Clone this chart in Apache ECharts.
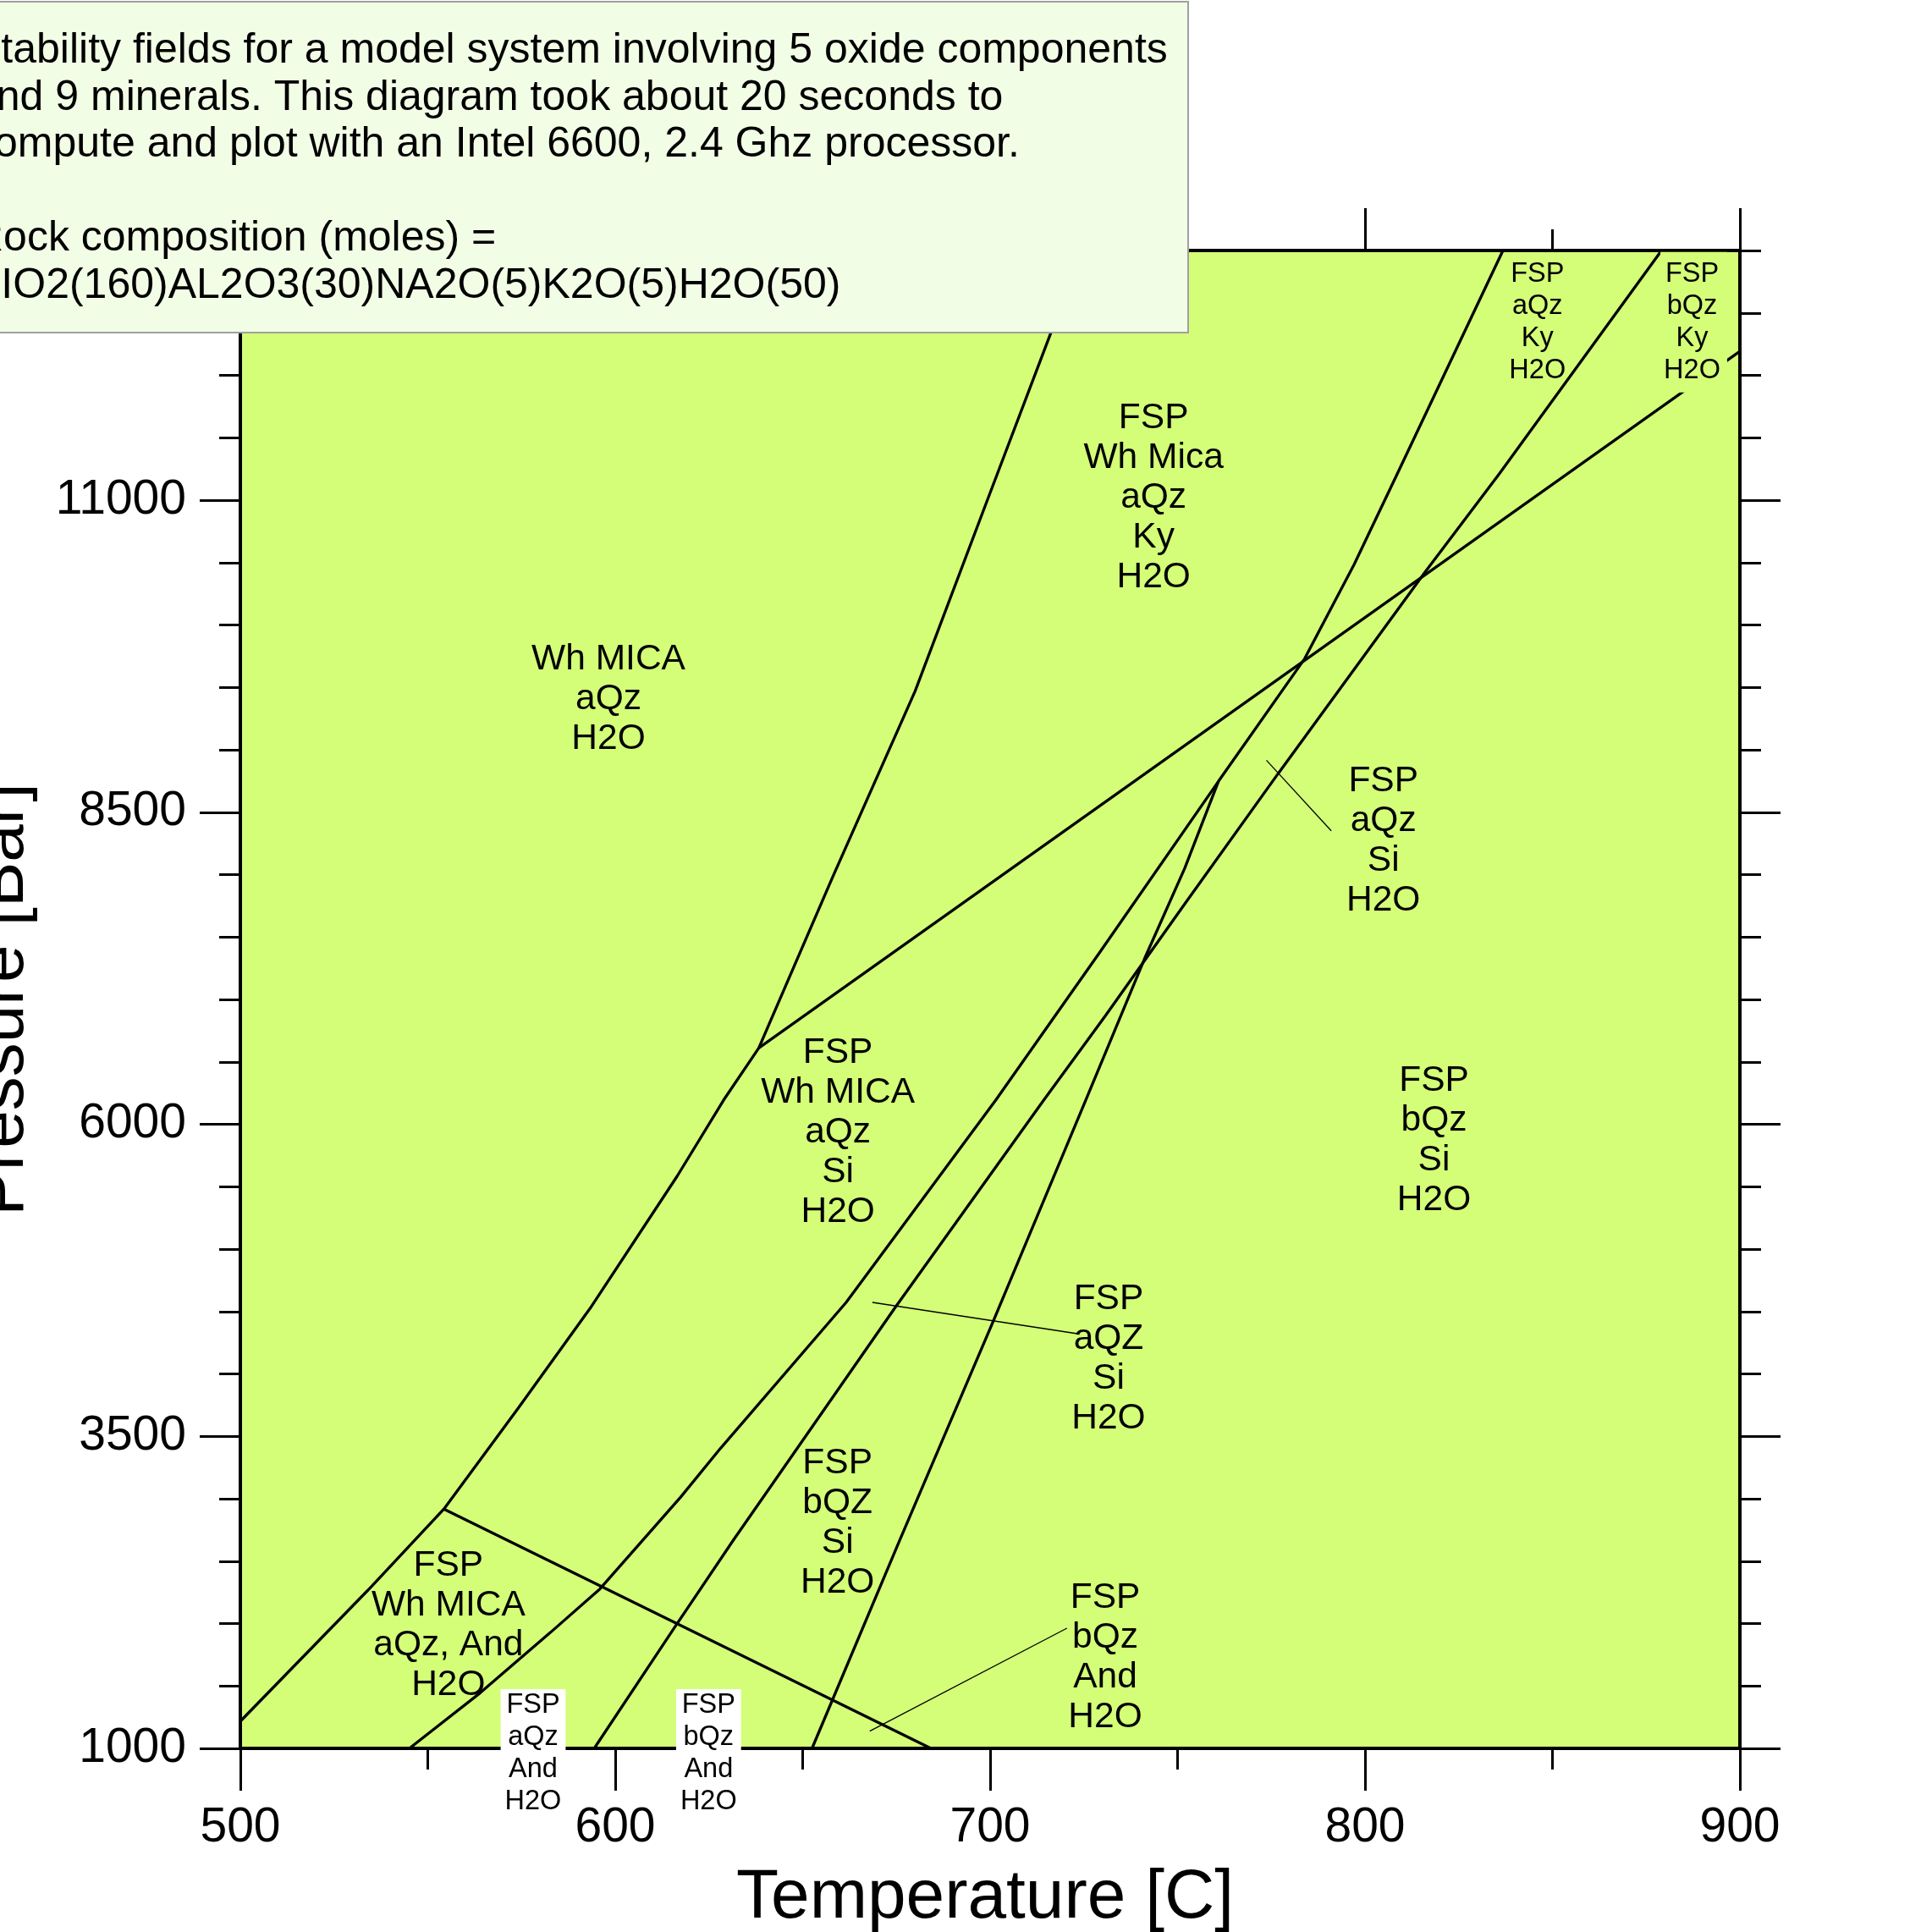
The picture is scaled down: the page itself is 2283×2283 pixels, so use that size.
<!DOCTYPE html>
<html><head><meta charset="utf-8">
<script src="https://cdn.jsdelivr.net/npm/echarts@6/dist/echarts.min.js"></script>
<style>html,body{margin:0;padding:0;background:#fff}#c{width:2283px;height:2283px}</style>
</head><body><div id="c"></div>
<script>
// ---------------- data ----------------
const tempRange = [500, 900];
const pressRange = [1000, 13000];
const xTickStep = 100;
const yTickStep = 500;
const yMajorTicks = [1000, 3500, 6000, 8500, 11000];

// phase boundaries [T (C), P (bar)]
const curveA = [[500,1217],[534,2266],[554.3,2917],[574,3720],[593.3,4525],[616.5,5583],[628.9,6193],[638.3,6611],
  [658,7980],[680,9470],[698,10900],[716.2,12340],[724.5,13000]];
const curveB = [[638.3,6611],[900,12193]];
const curveC = [[545.1,1000],[564.0,1445],[582.7,1928],[595.9,2277],[617.4,3011],[628.2,3408],[661.6,4573],
  [701.5,6193],[729.3,7380],[760.9,8747],[783.9,9730],[797.1,10485],[808.6,11210],[836.8,13000]];
const curveD = [[594.4,1000],[615.9,1972],[631.5,2668],[674.8,4537],[714.3,6193],[730.8,6871],[751.9,7764],
  [776.7,8804],[815.9,10419],[835.8,11210],[879.1,13000]];
const curveE = [[652.5,1000],[675.9,2668],[700.8,4419],[725.5,6193],[741.2,7327],[751.9,8050],[760.9,8747]];
const curveF = [[554.3,2917],[684.2,1000]];

// thin leader lines
const leader1 = [[773.7,8916],[791.0,8351]];
const leader2 = [[668.6,4573],[723.3,4322]];
const leader3 = [[667.9,1138],[720.5,1963]];

// field labels [T, P, text]
const fieldLabels = [
  [598.2, 9405, 'Wh MICA\naQz\nH2O'],
  [743.6, 11020, 'FSP\nWh Mica\naQz\nKy\nH2O'],
  [659.4, 5935, 'FSP\nWh MICA\naQz\nSi\nH2O'],
  [804.9, 8270, 'FSP\naQz\nSi\nH2O'],
  [818.4, 5866, 'FSP\nbQz\nSi\nH2O'],
  [731.6, 4118, 'FSP\naQZ\nSi\nH2O'],
  [659.3, 2802, 'FSP\nbQZ\nSi\nH2O'],
  [555.5, 1986, 'FSP\nWh MICA\naQz, And\nH2O'],
  [730.7, 1730, 'FSP\nbQz\nAnd\nH2O']
];
const kyLabelA = [[846.0, 12425, 'FSP\naQz\nKy\nH2O']];
const kyLabelB = [[887.7, 12425, 'FSP\nbQz\nKy\nH2O']];
const andLabels = [
  [578.1, 960, 'FSP\naQz\nAnd\nH2O'],
  [624.9, 960, 'FSP\nbQz\nAnd\nH2O']
];

const infoText = [
  'Stability fields for a model system involving 5 oxide components',
  'and 9 minerals. This diagram took about 20 seconds to',
  'compute and plot with an Intel 6600, 2.4 Ghz processor.',
  '',
  'Rock composition (moles) =',
  'SIO2(160)AL2O3(30)NA2O(5)K2O(5)H2O(50)'
];

// ---------------- chart ----------------
const FONT = '"Liberation Sans", Arial, Helvetica, sans-serif';
const PLOT_BG = '#d4fe78';
const chart = echarts.init(document.getElementById('c'), null, {renderer: 'canvas'});

function lineSeries(data, width) {
  return {type: 'line', data: data, xAxisIndex: 0, yAxisIndex: 0, symbol: 'none', showSymbol: false,
    lineStyle: {color: '#000', width: width}, silent: true, z: 3, animation: false};
}
function labelSeries(list, style) {
  return {type: 'scatter', xAxisIndex: 0, yAxisIndex: 0, clip: false, silent: true, z: 10, animation: false,
    symbolSize: 1, itemStyle: {color: 'rgba(0,0,0,0)', opacity: 1},
    data: list.map(d => ({value: [d[0], d[1]], name: d[2]})),
    label: Object.assign({show: true, position: 'inside', formatter: '{b}', color: '#000', opacity: 1,
      fontFamily: FONT, align: 'center', verticalAlign: 'middle'}, style)};
}

const tickLine = {color: '#000', width: 3};
const plainNum = v => String(v);
function xAxisDef(pos, showLabel) {
  return {type: 'value', position: pos, min: tempRange[0], max: tempRange[1], interval: xTickStep,
    axisLine: {show: true, onZero: false, lineStyle: {color: '#000', width: 4}},
    axisTick: {show: true, length: 50, lineStyle: tickLine},
    minorTick: {show: true, splitNumber: 2, length: 25, lineStyle: tickLine},
    splitLine: {show: false}, minorSplitLine: {show: false},
    axisLabel: {show: showLabel, fontSize: 57, margin: 66, color: '#000', fontFamily: FONT, formatter: plainNum},
    name: showLabel ? 'Temperature [C]' : '', nameLocation: 'middle', nameGap: 136,
    nameTextStyle: {fontSize: 82, color: '#000', fontFamily: FONT, padding: [0, 12, 0, 0]}};
}
function yAxisDef(pos, major, showLabel, showLine) {
  const ax = {type: 'value', position: pos, min: pressRange[0], max: pressRange[1], interval: yTickStep,
    axisLine: {show: showLine, onZero: false, lineStyle: {color: '#000', width: 4}},
    axisTick: {show: true, length: major ? 48 : 25, lineStyle: tickLine},
    splitLine: {show: false},
    axisLabel: {show: showLabel, fontSize: 57, margin: 64, color: '#000', fontFamily: FONT, formatter: plainNum}};
  if (major) {
    ax.axisTick.customValues = yMajorTicks;
    ax.axisLabel.customValues = yMajorTicks;
  }
  if (showLabel) {
    ax.name = 'Pressure [Bar]';
    ax.nameLocation = 'middle';
    ax.nameGap = 239;
    ax.nameTextStyle = {fontSize: 80, color: '#000', fontFamily: FONT};
  }
  return ax;
}

const option = {
  backgroundColor: '#ffffff',
  animation: false,
  grid: {left: 284, top: 296, width: 1772, height: 1770, show: true, backgroundColor: PLOT_BG, borderWidth: 0,
    containLabel: false, outerBoundsMode: 'none'},
  xAxis: [xAxisDef('bottom', true), xAxisDef('top', false)],
  yAxis: [yAxisDef('left', true, true, true), yAxisDef('left', false, false, false),
          yAxisDef('right', true, false, true), yAxisDef('right', false, false, false)],
  series: [
    lineSeries(curveA, 3.3), lineSeries(curveB, 3.3), lineSeries(curveC, 3.3),
    lineSeries(curveD, 3.3), lineSeries(curveE, 3.3), lineSeries(curveF, 3.3),
    lineSeries(leader1, 1.3), lineSeries(leader2, 1.3), lineSeries(leader3, 1.3),
    labelSeries(fieldLabels, {fontSize: 42.5, lineHeight: 47}),
    labelSeries(kyLabelA, {fontSize: 32.5, lineHeight: 38}),
    labelSeries(kyLabelB, {fontSize: 32.5, lineHeight: 38, backgroundColor: PLOT_BG, padding: [6, 8, 8, 4]}),
    labelSeries(andLabels, {fontSize: 32.5, lineHeight: 38, backgroundColor: '#ffffff', padding: [0, 5]})
  ],
  graphic: [
    {type: 'rect', z: 100, zlevel: 0, shape: {x: -10, y: 2, width: 1414, height: 391},
     style: {fill: '#f2fde6', stroke: '#a0a0a0', lineWidth: 2}},
    {type: 'text', z: 101, zlevel: 0, x: -32, y: 32.5,
     style: {text: infoText.join('\n'), fontSize: 50, lineHeight: 55.5, fontFamily: FONT, fill: '#000',
             align: 'left', verticalAlign: 'top'}}
  ]
};
chart.setOption(option);
</script></body></html>
